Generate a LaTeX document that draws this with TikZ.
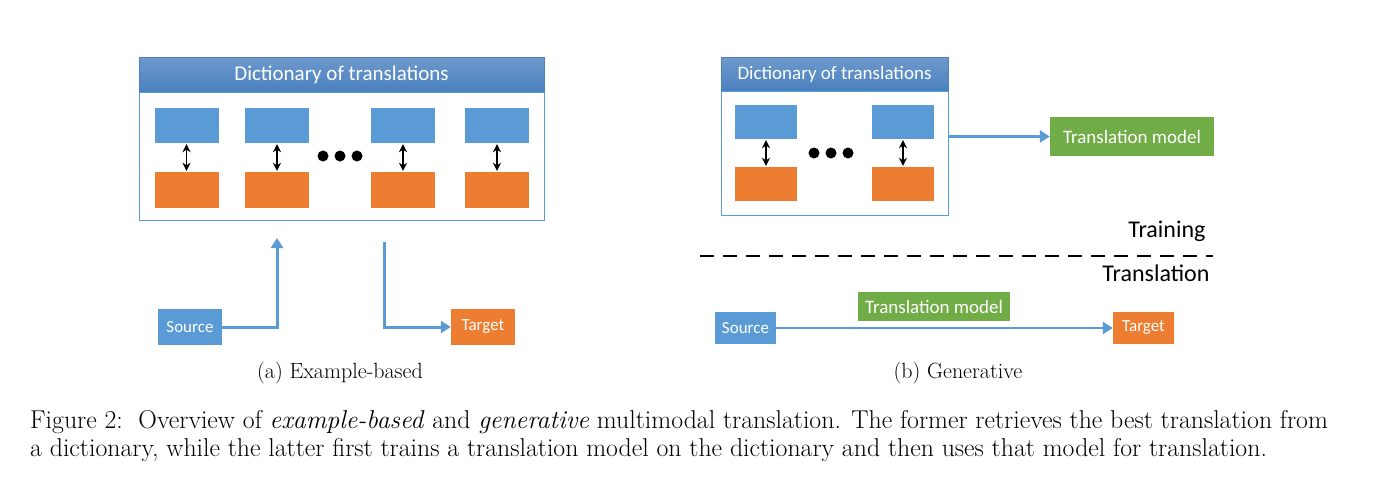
\documentclass[tikz,border=0pt]{standalone}
\usepackage{fontspec}
\newfontfamily\calfont{Carlito}
\usetikzlibrary{arrows.meta,calc}
\definecolor{bl}{HTML}{5B9BD5}
\definecolor{hd}{HTML}{4A80BF}
\definecolor{or}{HTML}{ED7D31}
\definecolor{gr}{HTML}{70AD47}
\definecolor{ln}{HTML}{5B9BD5}
\begin{document}
\begin{tikzpicture}[x=1pt,y=-1pt,
 bx/.style={draw=none,fill=#1,inner sep=0pt,font=\calfont\fontsize{17}{18}\selectfont,text=white},
 conn/.style={ln,line width=3pt,-{Triangle[length=10pt,width=12pt]}},
 dbl/.style={black,line width=1.6pt,{Stealth[length=8pt,width=8pt]}-{Stealth[length=8pt,width=8pt]}},
 hdr/.style={draw=hd,top color=hd!80!white,bottom color=hd,text=white,font=\calfont\fontsize{21}{22}\selectfont,inner sep=0pt},
 dot/.style={circle,fill=black,inner sep=0pt,minimum size=11pt}]
\useasboundingbox (0,0) rectangle (1375,498);
% left
\node[hdr,minimum width=405pt,minimum height=35pt] (lh) at (341.5,74.5) {Dictionary of translations};
\node[draw=bl,line width=1pt,minimum width=405pt,minimum height=128pt,inner sep=0pt] (lb) at (341.5,156) {};
\foreach \n/\x in {a/186.5,b/277,c/403,d/497}{
 \node[bx=bl,minimum width=64pt,minimum height=35pt] (lb\n) at (\x,125.5) {};
 \node[bx=or,minimum width=64pt,minimum height=36pt] (lo\n) at (\x,190) {};
 \draw[dbl] ($(lb\n.south)+(0,1)$) -- ($(lo\n.north)+(0,-1)$);
}
\foreach \n/\x in {1/323,2/340,3/357}{\node[dot] (ld\n) at (\x,156) {};}
\node[bx=bl,minimum width=64pt,minimum height=36pt] (src) at (190,327) {Source};
\node[bx=or,minimum width=64pt,minimum height=36pt] (tgt) at (483,327) {Target};
\coordinate (up) at (277,238);
\coordinate (dn) at (384,242);
\draw[conn] (src.east) -| (up);
\draw[conn] (dn) |- (tgt.west);
\node[font=\fontsize{22}{24}\selectfont] (ca) at (340,373) {(a) Example-based};
% right
\node[hdr,minimum width=227pt,minimum height=34pt,font=\calfont\fontsize{19}{20}\selectfont] (rh) at (834.5,74) {Dictionary of translations};
\node[draw=bl,line width=1pt,minimum width=227pt,minimum height=124pt,inner sep=0pt] (rb) at (834.5,153) {};
\foreach \n/\x in {a/766,b/903}{
 \node[bx=bl,minimum width=62pt,minimum height=34pt] (rb\n) at (\x,122) {};
 \node[bx=or,minimum width=62pt,minimum height=34pt] (ro\n) at (\x,184) {};
 \draw[dbl] ($(rb\n.south)+(0,1)$) -- ($(ro\n.north)+(0,-1)$);
}
\foreach \n/\x in {1/814,2/831,3/848}{\node[dot] (rd\n) at (\x,153) {};}
\node[bx=gr,minimum width=164pt,minimum height=39pt,font=\calfont\fontsize{19}{20}\selectfont] (tm1) at (1132,136.5) {Translation model};
\draw[conn] (rb.east |- tm1) -- (tm1.west);
\node[font=\calfont\fontsize{24}{26}\selectfont,anchor=east] (tr) at (1209,231) {Training};
\coordinate (dl) at (700,256); \coordinate (dr) at (1213,256);
\draw[line width=2pt,dash pattern=on 14pt off 9pt] (dl) -- (dr);
\node[font=\calfont\fontsize{24}{26}\selectfont,anchor=east] (tl) at (1213,273) {Translation};
\node[bx=gr,minimum width=152pt,minimum height=29pt,font=\calfont\fontsize{19}{20}\selectfont] (tm2) at (934,306.5) {Translation model};
\node[bx=bl,minimum width=61pt,minimum height=32pt] (src2) at (745.5,328) {Source};
\node[bx=or,minimum width=61pt,minimum height=32pt] (tgt2) at (1143.5,328) {Target};
\draw[conn,line width=2.5pt] (src2.east) -- (tgt2.west);
\node[font=\fontsize{22}{24}\selectfont] (cb) at (958,373) {(b) Generative};
\node[anchor=west,font=\fontsize{25.8}{28}\selectfont,inner sep=0pt] (f1) at (30,422) {Figure 2:\ \ Overview of \textit{example-based} and \textit{generative} multimodal translation. The former retrieves the best translation from};
\node[anchor=west,font=\fontsize{25.8}{28}\selectfont,inner sep=0pt] (f2) at (30,450) {a dictionary, while the latter first trains a translation model on the dictionary and then uses that model for translation.};
\end{tikzpicture}
\end{document}
